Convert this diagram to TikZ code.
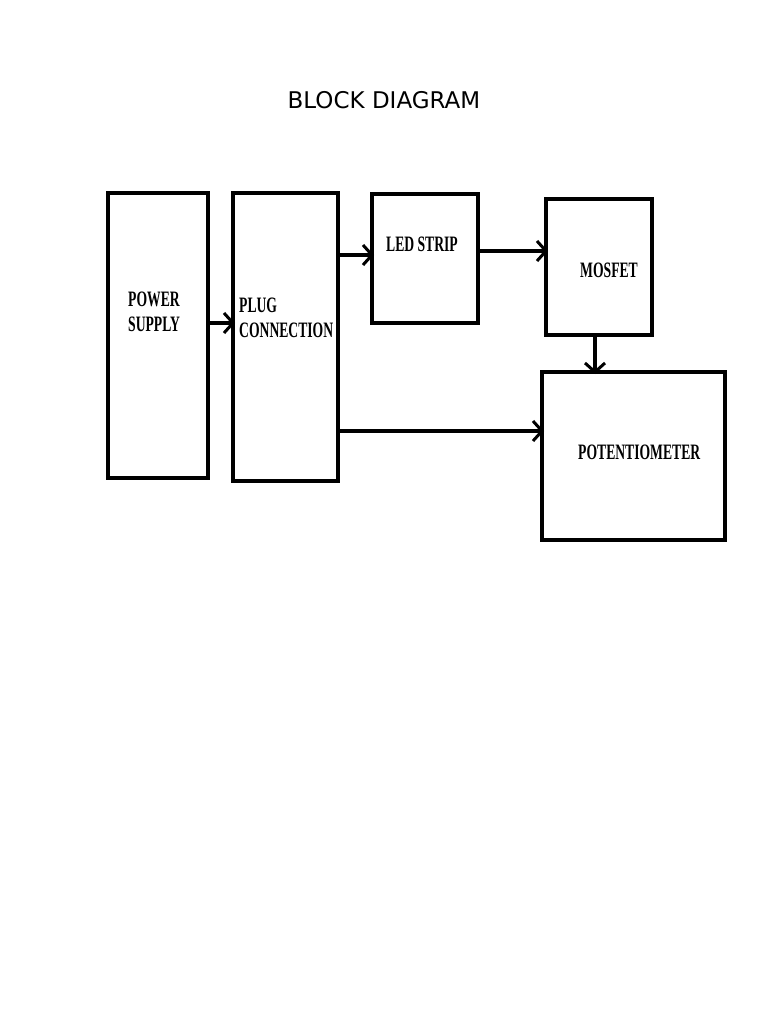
\documentclass[tikz,border=0pt]{standalone}
\usepackage{fontspec}
\setmainfont{Liberation Serif}
\newfontfamily\boxfont[FakeStretch=0.62]{Liberation Serif Bold}
\newfontfamily\titlefont{DejaVu Sans}
\usetikzlibrary{arrows.meta}
\begin{document}
\begin{tikzpicture}[x=1pt,y=-1pt,
  blk/.style={draw,line width=3.5pt},
  lbl/.style={font=\boxfont\fontsize{22}{25}\selectfont,align=left,anchor=west,inner sep=0},
  arr/.style={line width=3.5pt,-{Straight Barb[length=9pt,width=20pt,line width=3pt]}}]
\useasboundingbox (0,0) rectangle (768,1024);
\node[font=\titlefont\fontsize{23}{26}\selectfont] (title) at (384,100) {BLOCK DIAGRAM};
\draw[blk] (108,193) rectangle (208,478);
\draw[blk] (233,193) rectangle (338,481);
\draw[blk] (372,194) rectangle (478,323);
\draw[blk] (546,199) rectangle (652,335);
\draw[blk] (542,372) rectangle (725,540);
\coordinate (ps) at (208,323); \coordinate (plugL) at (235,323);
\coordinate (plugA) at (338,255); \coordinate (ledL) at (374,255);
\coordinate (ledR) at (478,251); \coordinate (mosL) at (548,251);
\coordinate (mosB) at (595,335); \coordinate (potT) at (595,374);
\coordinate (plugB) at (338,431); \coordinate (potL) at (544,431);
\node[lbl] (pst) at (128,312) {POWER\\SUPPLY};
\node[lbl] (plt) at (239,318) {PLUG\\CONNECTION};
\node[lbl] (led) at (386,244) {LED STRIP};
\node[lbl] (mos) at (580,270) {MOSFET};
\node[lbl] (pot) at (578,452) {POTENTIOMETER};
\draw[arr] (ps) -- (plugL);
\draw[arr] (plugA) -- (ledL);
\draw[arr] (ledR) -- (mosL);
\draw[arr] (mosB) -- (potT);
\draw[arr] (plugB) -- (potL);
\end{tikzpicture}
\end{document}
